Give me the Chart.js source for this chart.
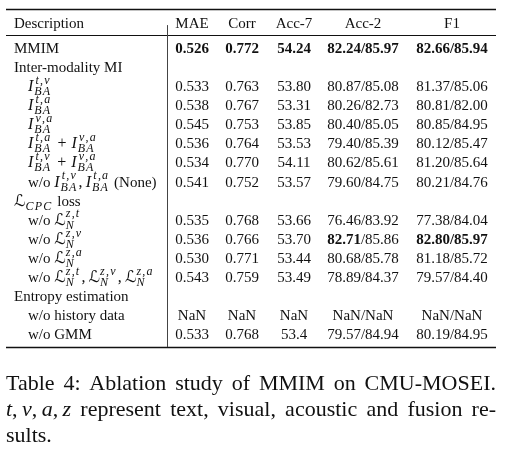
<!DOCTYPE html>
<html>
<head>
<meta charset="utf-8">
<script src="https://cdn.jsdelivr.net/npm/chart.js@4.4.0/dist/chart.umd.min.js"></script>
<style>
  html, body { margin: 0; padding: 0; background: #fff; }
  #wrap { width: 507px; height: 453px; }
</style>
</head>
<body>
<div id="wrap"><canvas id="table4"></canvas></div>
<script>
    // ---- data (Table 4, ablation of MMIM on CMU-MOSEI) ----
    var columns = ['MAE', 'Corr', 'Acc-7', 'Acc-2', 'F1'];
    var rowLabels = [
        'MMIM',
        'Inter-modality MI',
        '$I^{t,v}_{BA}$',
        '$I^{t,a}_{BA}$',
        '$I^{v,a}_{BA}$',
        '$I^{t,a}_{BA} + I^{v,a}_{BA}$',
        '$I^{t,v}_{BA} + I^{v,a}_{BA}$',
        'w/o $I^{t,v}_{BA}, I^{t,a}_{BA}$ (None)',
        '$ℒ_{CPC}$ loss',
        'w/o $ℒ^{z,t}_{N}$',
        'w/o $ℒ^{z,v}_{N}$',
        'w/o $ℒ^{z,a}_{N}$',
        'w/o $ℒ^{z,t}_{N}, ℒ^{z,v}_{N}, ℒ^{z,a}_{N}$',
        'Entropy estimation',
        'w/o history data',
        'w/o GMM'
    ];
    // 0 = group row, 1 = indented sub row
    var rowLevel = [0, 0, 1, 1, 1, 1, 1, 1, 0, 1, 1, 1, 1, 0, 1, 1];
    var mae  = ['0.526', null, '0.533', '0.538', '0.545', '0.536', '0.534', '0.541', null, '0.535', '0.536', '0.530', '0.543', null, 'NaN', '0.533'];
    var corr = ['0.772', null, '0.763', '0.767', '0.753', '0.764', '0.770', '0.752', null, '0.768', '0.766', '0.771', '0.759', null, 'NaN', '0.768'];
    var acc7 = ['54.24', null, '53.80', '53.31', '53.85', '53.53', '54.11', '53.57', null, '53.66', '53.70', '53.44', '53.49', null, 'NaN', '53.4'];
    var acc2 = ['82.24/85.97', null, '80.87/85.08', '80.26/82.73', '80.40/85.05', '79.40/85.39', '80.62/85.61', '79.60/84.75', null,
                '76.46/83.92', '82.71/85.86', '80.68/85.78', '78.89/84.37', null, 'NaN/NaN', '79.57/84.94'];
    var f1   = ['82.66/85.94', null, '81.37/85.06', '80.81/82.00', '80.85/84.95', '80.12/85.47', '81.20/85.64', '80.21/84.76', null,
                '77.38/84.04', '82.80/85.97', '81.18/85.72', '79.57/84.40', null, 'NaN/NaN', '80.19/84.95'];
    // [row, column, part]  part: 'all' or index of the '/'-separated piece
    var boldCells = [[0, 0, 'all'], [0, 1, 'all'], [0, 2, 'all'], [0, 3, 'all'], [0, 4, 'all'], [10, 3, 0], [10, 4, 'all']];
    var captionLines = [
        'Table 4:  Ablation study of MMIM on CMU-MOSEI.',
        '$t, v, a, z$ represent text, visual, acoustic and fusion re-',
        'sults.'
    ];

    var values = [mae, corr, acc7, acc2, f1];

    // ---- layout (table units on the x axis, row index on the y axis) ----
    var colCenter = [186, 236, 288, 357, 446];
    var labelX = [8, 22];
    var dividerX = 161;
    var headerRow = -1.31, topRule = -2.05, midRule = -0.68, bottomRule = 15.68;

    var SERIF = '"Liberation Serif", "Times New Roman", "DejaVu Serif", "DejaVu Sans", serif';
    var INK = '#111';
    function font(size, bold, italic) {
        return (italic ? 'italic ' : '') + (bold ? 'bold ' : '') + size + 'px ' + SERIF;
    }

    /*
     * tiny TeX-ish math run: letters italic, ^{..} and _{..} stacked
     */
    function mathRun(ctx, s, x, y, size, draw, script) {
        var i = 0;
        var track = script ? size * 0.1 : 0;
        while (i < s.length) {
            var c = s[i];
            if (c === ' ') { x += size * 0.2; i++; continue; }
            var italic = /[A-Za-z]/.test(c);
            ctx.font = font(size, false, italic);
            var w = ctx.measureText(c).width;
            if (c === '+') {
                // wider math plus
                var adv = size * 0.78;
                if (draw) ctx.fillText(c, x + (adv - w) / 2, y);
                x += adv;
                i++;
                continue;
            }
            if (draw) ctx.fillText(c, x, y);
            x += w + track;
            i++;
            var sup = null, sub = null;
            while (s[i] === '^' || s[i] === '_') {
                var end = s.indexOf('}', i);
                var g = s.slice(i + 2, end);
                if (s[i] === '^') sup = g; else sub = g;
                i = end + 1;
            }
            if (sup || sub) {
                var ss = Math.round(size * 0.75);
                var w1 = 0, w2 = 0;
                if (italic) x += size * 0.06;
                if (sup) w1 = mathRun(ctx, sup, x + (italic ? size * 0.08 : 0), y - size * 0.45, ss, draw, true) - x;
                if (sub) w2 = mathRun(ctx, sub, x, y + size * 0.25, ss, draw, true) - x;
                x += Math.max(w1, w2) + 1;
            }
        }
        return x;
    }

    function richText(ctx, str, x, y, size, bold, draw, mathScale) {
        var parts = str.split('$');
        for (var p = 0; p < parts.length; p++) {
            if (p % 2) {
                x = mathRun(ctx, parts[p], x, y, Math.round(size * (mathScale || 1)), draw, false);
            } else if (parts[p]) {
                ctx.font = font(size, bold, false);
                if (draw) ctx.fillText(parts[p], x, y);
                x += ctx.measureText(parts[p]).width;
            }
        }
        return x;
    }

    function boldPart(row, col) {
        for (var b = 0; b < boldCells.length; b++) {
            if (boldCells[b][0] === row && boldCells[b][1] === col) return boldCells[b][2];
        }
        return null;
    }

    function drawValue(ctx, str, cx, y, size, bp) {
        var pieces = str.split('/');
        var segs = [];
        pieces.forEach(function (pc, k) {
            var b = bp === 'all' || bp === k;
            segs.push({ t: pc, b: b });
            if (k < pieces.length - 1) segs.push({ t: '/', b: bp === 'all' });
        });
        var total = 0;
        segs.forEach(function (s) { ctx.font = font(size, s.b); s.w = ctx.measureText(s.t).width; total += s.w; });
        var x = cx - total / 2;
        segs.forEach(function (s) { ctx.font = font(size, s.b); ctx.fillText(s.t, x, y); x += s.w; });
    }

    function justifyLine(ctx, str, left, right, y, size, last) {
        var words = str.match(/\$[^$]*\$|\S+/g);
        var widths = words.map(function (w) { return richText(ctx, w, 0, 0, size, false, false); });
        var sum = widths.reduce(function (a, b) { return a + b; }, 0);
        var gap = last ? size * 0.25 : (right - left - sum) / (words.length - 1);
        var x = left;
        words.forEach(function (w, k) {
            richText(ctx, w, x, y, size, false, true);
            x += widths[k] + gap;
        });
    }

    var tablePlugin = {
        id: 'tableText',
        afterDatasetsDraw: function (chart) {
            var ctx = chart.ctx, xs = chart.scales.x, ys = chart.scales.y, area = chart.chartArea;
            ctx.save();
            ctx.fillStyle = INK;
            ctx.strokeStyle = INK;
            ctx.textBaseline = 'alphabetic';

            // rules
            [[topRule, 1.3], [midRule, 1], [bottomRule, 1.3]].forEach(function (r) {
                var py = Math.round(ys.getPixelForValue(r[0])) + 0.5;
                ctx.lineWidth = r[1];
                ctx.beginPath(); ctx.moveTo(area.left, py); ctx.lineTo(area.right, py); ctx.stroke();
            });
            var vx = Math.round(xs.getPixelForValue(dividerX)) + 0.5;
            ctx.lineWidth = 1;
            ctx.strokeStyle = '#444';
            ctx.beginPath();
            ctx.moveTo(vx, ys.getPixelForValue(headerRow) + 2);
            ctx.lineTo(vx, ys.getPixelForValue(bottomRule));
            ctx.stroke();

            // header
            var hy = ys.getPixelForValue(headerRow) + 5;
            ctx.font = font(15);
            ctx.textAlign = 'left';
            ctx.fillText('Description', xs.getPixelForValue(labelX[0]), hy);
            ctx.textAlign = 'center';
            columns.forEach(function (c, k) { ctx.fillText(c, xs.getPixelForValue(colCenter[k]), hy); });

            // cells, placed on each dataset's points
            ctx.textAlign = 'left';
            chart.data.datasets.forEach(function (ds, k) {
                var meta = chart.getDatasetMeta(k);
                meta.data.forEach(function (pt, i) {
                    var y = pt.y + 5;
                    if (k === columns.length) {
                        richText(ctx, rowLabels[i], pt.x, y, 15, false, true, 1.07);
                    } else if (values[k][i] !== null) {
                        drawValue(ctx, values[k][i], pt.x, y, 15, boldPart(i, k));
                    }
                });
            });

            // caption
            var capY = [390, 416, 442];
            captionLines.forEach(function (line, k) {
                justifyLine(ctx, line, area.left, area.right, capY[k], 22, k === captionLines.length - 1);
            });
            ctx.restore();
        }
    };

    var datasets = columns.map(function (c, k) {
        return {
            label: c,
            data: rowLabels.map(function (_, i) { return { x: colCenter[k], y: i }; }),
            pointRadius: 0
        };
    });
    datasets.push({
        label: 'Description',
        data: rowLabels.map(function (_, i) { return { x: labelX[rowLevel[i]], y: i }; }),
        pointRadius: 0
    });

    var chart = new Chart('table4', {
        type: 'scatter',
        data: { datasets: datasets },
        options: {
            responsive: true,
            maintainAspectRatio: false,
            animation: false,
            layout: { padding: { left: 6, right: 11, top: 9, bottom: 106 } },
            scales: {
                x: { type: 'linear', min: 0, max: 490, display: false },
                y: { type: 'linear', reverse: true, min: topRule, max: bottomRule, display: false }
            },
            plugins: { legend: { display: false }, tooltip: { enabled: false } }
        },
        plugins: [tablePlugin]
    });
</script>
</body>
</html>
